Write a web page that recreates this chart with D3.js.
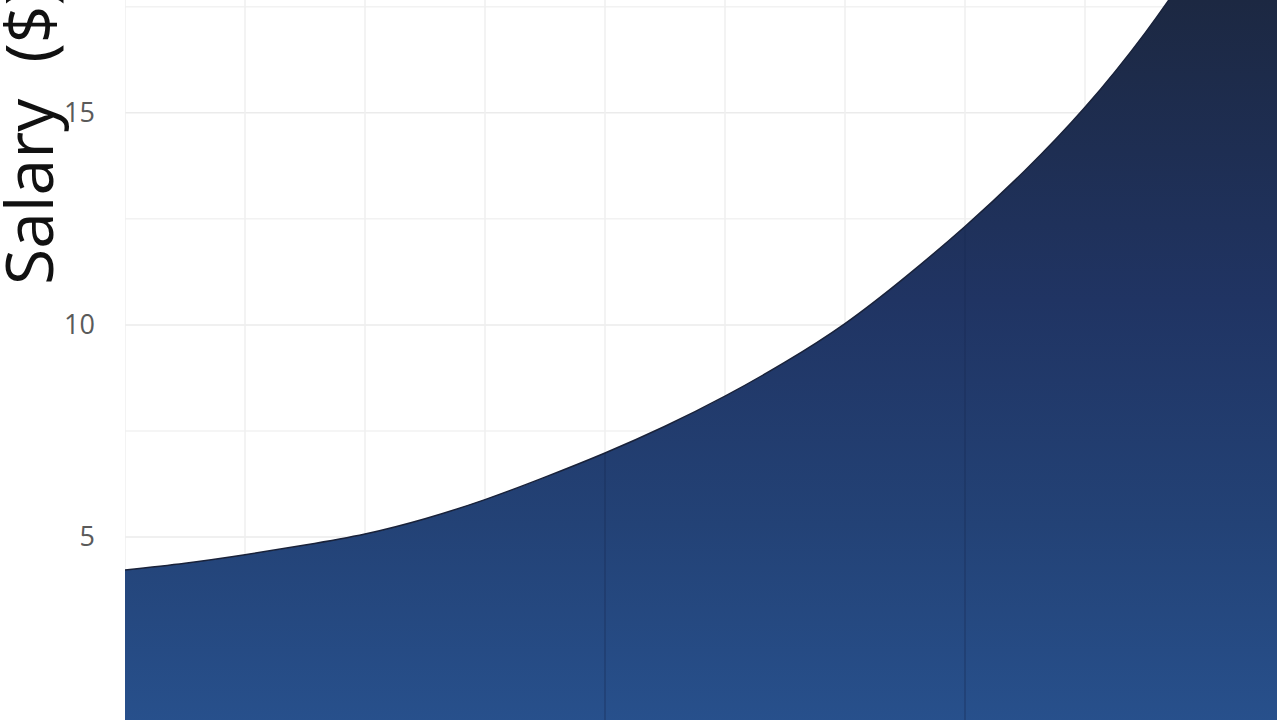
<!DOCTYPE html>
<html>
<head>
<meta charset="utf-8">
<script src="https://cdn.jsdelivr.net/npm/d3@7"></script>
<style>
    body { margin: 0; background: #ffffff; }
    svg { display: block; }
</style>
</head>
<body>
<div id="divGrafica"></div>
<script>

// datos
var experiencia = [0, 0.5, 1, 1.5, 2, 2.5, 3, 3.5, 4, 4.5, 5, 5.5, 6, 6.5, 7, 7.5, 8, 8.5, 9, 9.6];
var salario = [4.22, 4.38, 4.58, 4.81, 5.07, 5.43, 5.88, 6.41, 6.98, 7.61, 8.32, 9.12, 10.03, 11.12, 12.32, 13.64, 15.13, 16.88, 18.95, 21.77];
var ticksY = [5, 10, 15];
var gridMenorY = [2.5, 7.5, 12.5, 17.5];
var gridX = [0, 1, 2, 3, 4, 5, 6, 7, 8, 9];
var gridXMayor = [4, 7];
var tituloY = "Salary";
var tituloYUnidad = "($)";

InicializaGrafica();


function InicializaGrafica() {
    var ancho = 1280, alto = 720;

    var svg = d3.select("#divGrafica").append("svg")
        .attr("width", ancho)
        .attr("height", alto);

    var x = d3.scaleLinear().domain([0, 9.6]).range([125, 1277]);
    var y = d3.scaleLinear().domain([0, 17.66]).range([749, 0]);

    var puntos = experiencia.map(function (d, i) { return { x: d, y: salario[i] }; });

    var area = d3.area()
        .x(function (d) { return x(d.x); })
        .y0(y(0))
        .y1(function (d) { return y(d.y); })
        .curve(d3.curveNatural);

    var linea = d3.line()
        .x(function (d) { return x(d.x); })
        .y(function (d) { return y(d.y); })
        .curve(d3.curveNatural);

    var defs = svg.append("defs");
    var grad = defs.append("linearGradient")
        .attr("id", "gradSalario")
        .attr("gradientUnits", "userSpaceOnUse")
        .attr("x1", 0).attr("y1", 0)
        .attr("x2", 0).attr("y2", 749);
    grad.append("stop").attr("offset", "0").attr("stop-color", "#1c2842");
    grad.append("stop").attr("offset", "0.4").attr("stop-color", "#203463");
    grad.append("stop").attr("offset", "0.7").attr("stop-color", "#234276");
    grad.append("stop").attr("offset", "1").attr("stop-color", "#28528f");

    defs.append("clipPath").attr("id", "clipPanel")
        .append("rect")
        .attr("x", x(0)).attr("y", 0)
        .attr("width", x(9.6) - x(0)).attr("height", alto);

    defs.append("clipPath").attr("id", "clipArea")
        .append("path")
        .datum(puntos)
        .attr("d", area);

    var panel = svg.append("g").attr("clip-path", "url(#clipPanel)");

    // grilla
    panel.selectAll(".grid-menor").data(gridMenorY).enter().append("line")
        .attr("class", "grid-menor")
        .attr("x1", x(0)).attr("x2", x(9.6))
        .attr("y1", function (d) { return y(d); })
        .attr("y2", function (d) { return y(d); })
        .attr("stroke", "#f2f2f2")
        .attr("stroke-width", 1.5);

    panel.selectAll(".grid-y").data(ticksY).enter().append("line")
        .attr("class", "grid-y")
        .attr("x1", x(0)).attr("x2", x(9.6))
        .attr("y1", function (d) { return y(d); })
        .attr("y2", function (d) { return y(d); })
        .attr("stroke", "#ebebeb")
        .attr("stroke-width", 1.5);

    panel.selectAll(".grid-x").data(gridX).enter().append("line")
        .attr("class", "grid-x")
        .attr("x1", function (d) { return x(d); })
        .attr("x2", function (d) { return x(d); })
        .attr("y1", 0).attr("y2", alto)
        .attr("stroke", "#efefef")
        .attr("stroke-width", 1.5);

    panel.append("path")
        .datum(puntos)
        .attr("d", area)
        .attr("fill", "url(#gradSalario)");

    // lineas mayores que se ven solo dentro del area
    panel.append("g")
        .attr("clip-path", "url(#clipArea)")
        .selectAll(".grid-x-mayor").data(gridXMayor).enter().append("line")
        .attr("class", "grid-x-mayor")
        .attr("x1", function (d) { return x(d); })
        .attr("x2", function (d) { return x(d); })
        .attr("y1", 0).attr("y2", alto)
        .attr("stroke", "#1a2a4f")
        .attr("stroke-opacity", 0.4)
        .attr("stroke-width", 1.5);

    panel.append("path")
        .datum(puntos)
        .attr("d", linea)
        .attr("fill", "none")
        .attr("stroke", "#19223a")
        .attr("stroke-width", 1.5);

    var ejeY = d3.axisLeft(y)
        .tickValues(ticksY)
        .tickSize(0)
        .tickPadding(30)
        .tickFormat(d3.format("d"));

    var gEje = svg.append("g")
        .attr("transform", "translate(" + x(0) + ",0)")
        .call(ejeY);
    gEje.select(".domain").remove();
    gEje.selectAll("text")
        .attr("font-family", "'Open Sans', sans-serif")
        .attr("font-size", 27)
        .attr("fill", "#5a5a5a");

    var titulo = svg.append("text")
        .attr("transform", "translate(53,285) rotate(-90)")
        .attr("text-anchor", "start")
        .attr("font-family", "'Open Sans', sans-serif")
        .attr("font-size", 66)
        .attr("fill", "#111111")
        .text(tituloY);
    titulo.append("tspan")
        .attr("dx", 36)
        .text(tituloYUnidad);
}
</script>
</body>
</html>
